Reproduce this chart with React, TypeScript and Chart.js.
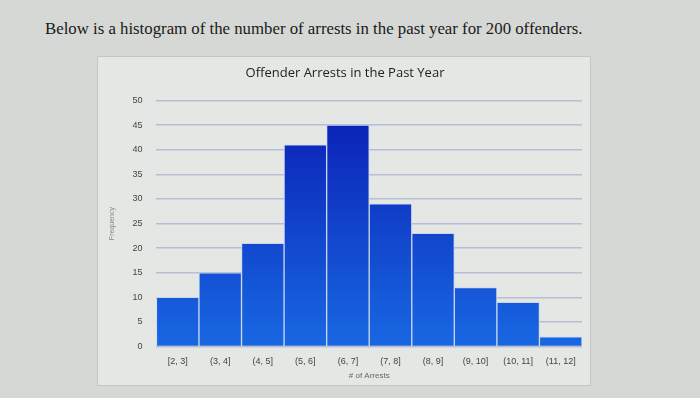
import React, { useEffect, useRef } from "react";
import { Chart, registerables } from "chart.js";

Chart.register(...registerables);

const heading = "Below is a histogram of the number of arrests in the past year for 200 offenders.";
const chartTitle = "Offender Arrests in the Past Year";
const categories = ["[2, 3]", "(3, 4]", "(4, 5]", "(5, 6]", "(6, 7]", "(7, 8]", "(8, 9]", "(9, 10]", "(10, 11]", "(11, 12]"];
const frequencies = [10, 15, 21, 41, 45, 29, 23, 12, 9, 2];
const yTitle = "Frequency";
const xTitle = "# of Arrests";

export default function App() {
  const ref = useRef<HTMLCanvasElement | null>(null);

  useEffect(() => {
    if (!ref.current) return;
    const chart = new Chart(ref.current, {
      type: "bar",
      data: {
        labels: categories,
        datasets: [
          {
            label: "Frequency",
            data: frequencies,
            backgroundColor: (ctx: any) => {
              const c = ctx.chart;
              const area = c.chartArea;
              if (!area) return "#1040d0";
              const g = c.ctx.createLinearGradient(0, area.top, 0, area.bottom);
              g.addColorStop(0, "#0a1cb4");
              g.addColorStop(1, "#1868e2");
              return g;
            },
            borderColor: "#c9d6ee",
            borderWidth: 1,
            barPercentage: 1,
            categoryPercentage: 1,
          },
        ],
      },
      options: {
        animation: false,
        responsive: false,
        maintainAspectRatio: false,
        layout: { padding: { left: 10, right: 8, top: 4, bottom: 4 } },
        plugins: {
          legend: { display: false },
          tooltip: { enabled: false },
          title: {
            display: true,
            text: chartTitle,
            color: "#222",
            font: { family: "'Open Sans', sans-serif", size: 13, weight: "500" },
            padding: { top: 4, bottom: 20 },
          },
        },
        scales: {
          x: {
            grid: { display: false },
            border: { display: false },
            ticks: {
              color: "#444",
              font: { family: "'Liberation Sans', sans-serif", size: 9 },
              maxRotation: 0,
              padding: 2,
            },
            title: {
              display: true,
              text: xTitle,
              color: "#666",
              font: { family: "'Liberation Sans', sans-serif", size: 8 },
              padding: { top: 2, bottom: 0 },
            },
          },
          y: {
            min: 0,
            max: 50,
            grid: { color: "#b6bdd6", lineWidth: 1.5, drawTicks: false },
            border: { display: false },
            ticks: {
              stepSize: 5,
              color: "#444",
              font: { family: "'Liberation Sans', sans-serif", size: 9 },
              padding: 14,
            },
            title: {
              display: true,
              text: yTitle,
              color: "#888",
              font: { family: "'Liberation Sans', sans-serif", size: 7 },
              padding: { top: 0, bottom: 2 },
            },
          },
        },
      },
    });
    return () => chart.destroy();
  }, []);

  return (
    <div
      style={{
        position: "fixed",
        left: 0,
        top: 0,
        width: 700,
        height: 398,
        background: "#d5d8d4",
        overflow: "hidden",
      }}
    >
      <div
        style={{
          position: "absolute",
          left: 45,
          top: 19,
          fontFamily: "'Liberation Serif', 'DejaVu Serif', serif",
          fontSize: 16.8,
          color: "#1a1a1a",
          whiteSpace: "nowrap",
        }}
      >
        {heading}
      </div>
      <div
        style={{
          position: "absolute",
          left: 97,
          top: 56,
          width: 492,
          height: 328,
          background: "#e4e7e4",
          border: "1px solid #c3c7c4",
        }}
      >
        <canvas ref={ref} width={492} height={328} style={{ display: "block" }} />
      </div>
    </div>
  );
}
